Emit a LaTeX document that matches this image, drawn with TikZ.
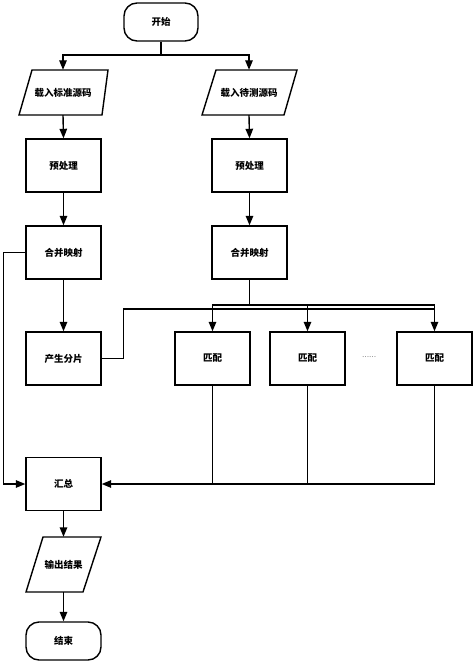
\documentclass[tikz,border=0pt]{standalone}
\usepackage{fontspec}
\setmainfont{Noto Sans CJK SC}
\usetikzlibrary{arrows.meta}
\tikzset{
  box/.style={draw, line width=1.4pt, minimum width=75pt, minimum height=53pt, inner sep=0pt, font=\fontsize{9.5}{11}\selectfont\bfseries},
  term/.style={box, rounded corners=13pt, minimum height=38pt},
  iotext/.style={inner sep=0pt, minimum width=60pt, minimum height=45pt, font=\fontsize{9.5}{11}\selectfont\bfseries},
  ioshape/.style={line width=1.4pt, line join=miter},
  line/.style={line width=1.4pt},
  arr/.style={line width=1.4pt, -{Triangle[length=9.5pt,width=7.5pt]}},
}
\begin{document}
\begin{tikzpicture}[x=1pt,y=-1pt]
\useasboundingbox[fill=white] (0,0) rectangle (474,663);

% terminals
\node[term, minimum width=74pt] (start) at (161,22) {开始};
\node[term] (stop) at (63.5,641) {结束};

% input / output shapes
\draw[ioshape] (32,70) -- (108,70) -- (102,115) -- (19,115) -- cycle;
\node[iotext] (in1) at (63,92.5) {载入标准源码};
\draw[ioshape] (216,70) -- (297,70) -- (284,115) -- (202,115) -- cycle;
\node[iotext] (in2) at (249,92.5) {载入待测源码};
\draw[ioshape] (43,537) -- (101,537) -- (83,592) -- (26,592) -- cycle;
\node[iotext, minimum height=55pt] (out) at (63.5,564.5) {输出结果};

% process boxes
\node[box] (pre1) at (63.5,165.5) {预处理};
\node[box] (pre2) at (249.5,165.5) {预处理};
\node[box] (merge1) at (63.5,252.5) {合并映射};
\node[box] (merge2) at (249.5,252.5) {合并映射};
\node[box] (gen) at (63.5,358.5) {产生分片};
\node[box] (m1) at (212.5,358.5) {匹配};
\node[box] (m2) at (307.5,358.5) {匹配};
\node[box] (m3) at (434.5,358.5) {匹配};
\node[box] (sum) at (63.5,484) {汇总};
\node[inner sep=0pt, font=\fontsize{6.5}{7}\selectfont] (dots) at (369,357) {……};

% connectors
\coordinate (split) at (161,55);
\draw[line] (start.south) -- (split);
\draw[arr] (split) -| (in1.north);
\draw[arr] (split) -| (in2.north);
\draw[arr] (in1.south) -- (pre1.north);
\draw[arr] (in2.south) -- (pre2.north);
\draw[arr] (pre1.south) -- (merge1.north);
\draw[arr] (pre2.south) -- (merge2.north);
\draw[arr] (merge1.south) -- (gen.north);

\coordinate (j) at (249.5,305);
\draw[line] (merge2.south) -- (j);
\draw[arr] (j) -| (m1.north);
\draw[arr] (j) -| (m2.north);
\draw[arr] (j) -| (m3.north);

\coordinate (c) at (434.5,309);
\draw[line] (gen.east) -- ++(22,0) |- (c);

\draw[arr] (merge1.west) -- ++(-22,0) |- (sum.west);
\draw[arr] (m3.south) |- (sum.east);
\draw[line] (m1.south) -- (m1.south |- sum.east);
\draw[line] (m2.south) -- (m2.south |- sum.east);

\draw[arr] (sum.south) -- (out.north);
\draw[arr] (out.south) -- (stop.north);
\end{tikzpicture}
\end{document}
